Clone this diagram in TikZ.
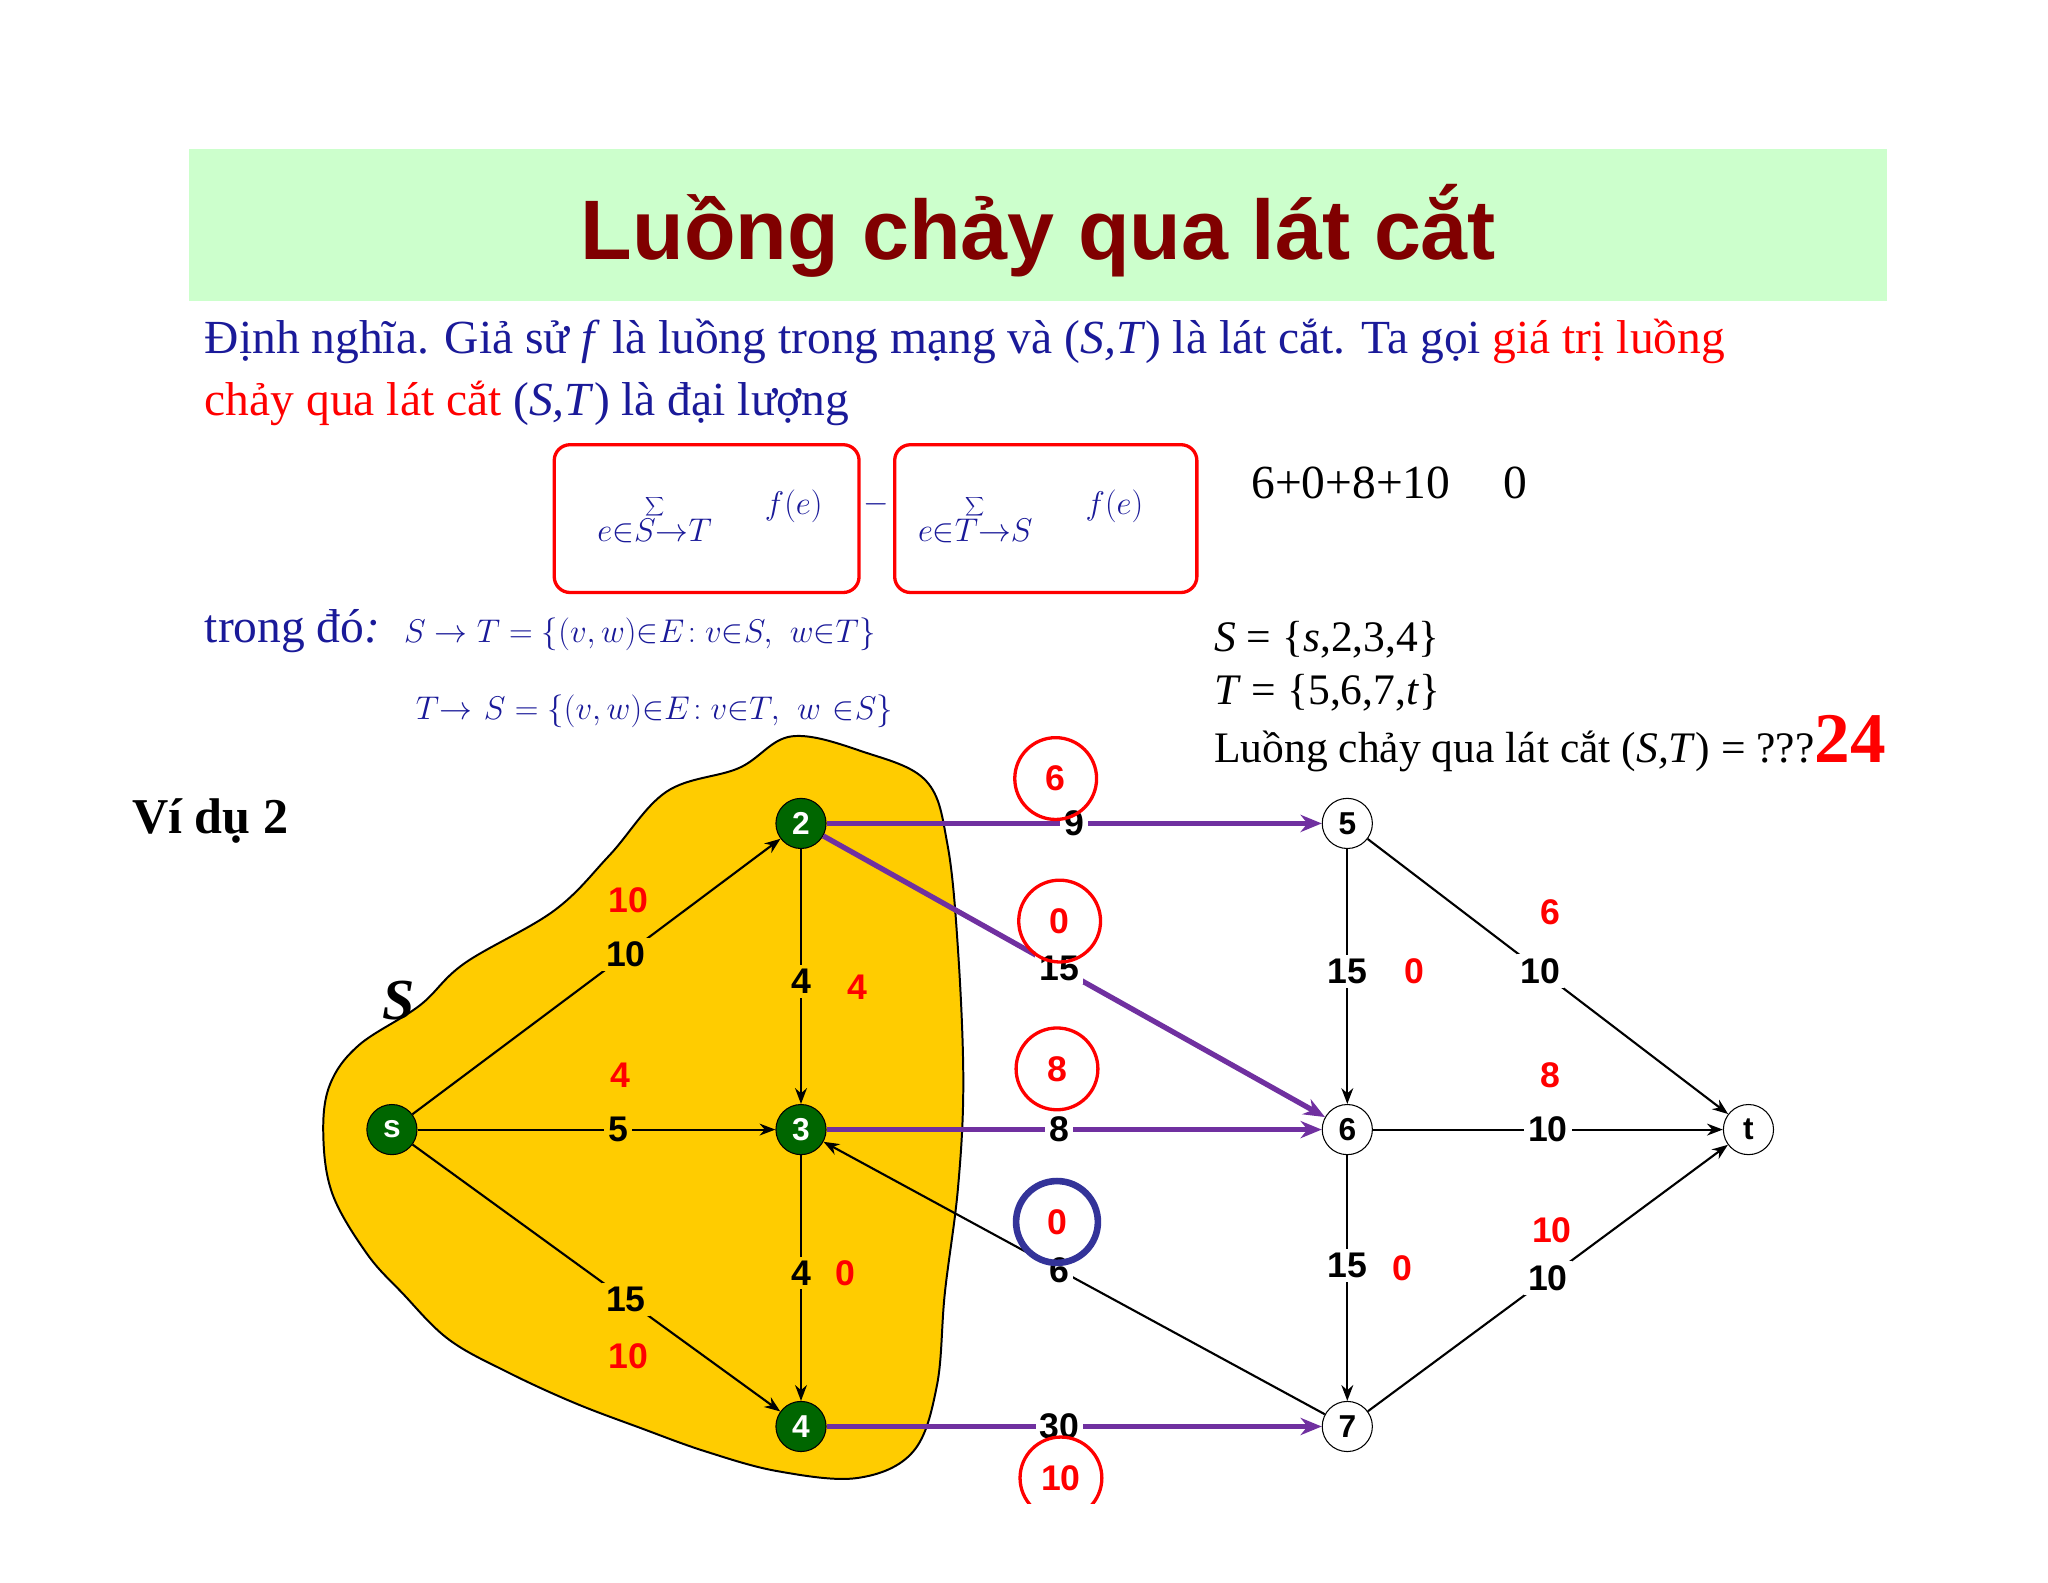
\documentclass[tikz,border=0pt]{standalone}
\usepackage{fontspec}
\setmainfont{Liberation Serif}
\newfontfamily\lsans{Liberation Sans}
\usetikzlibrary{arrows.meta}
\definecolor{bandgreen}{HTML}{CCFFCC}
\definecolor{titlered}{HTML}{800000}
\definecolor{txtblue}{HTML}{1A1A99}
\definecolor{blobyellow}{HTML}{FFCC00}
\definecolor{nodegreen}{HTML}{006600}
\definecolor{purp}{HTML}{7030A0}
\definecolor{cblue}{HTML}{333399}
\tikzset{
 gnode/.style={circle,draw=black,thick,fill=nodegreen,text=white,minimum size=38pt,inner sep=0pt,font=\lsans\bfseries\fontsize{24}{24}\selectfont},
 wnode/.style={circle,draw=black,thick,fill=white,text=black,minimum size=38pt,inner sep=0pt,font=\lsans\bfseries\fontsize{24}{24}\selectfont},
 edg/.style={draw=black,line width=1.6pt,-{Stealth[length=12pt,width=9pt]}},
 pedg/.style={draw=purp,line width=4pt,-{Stealth[length=16pt,width=13pt]}},
 lab/.style={fill=white,inner sep=3pt,font=\lsans\bfseries\fontsize{27}{27}\selectfont},
 rlab/.style={text=red,inner sep=1pt,font=\lsans\bfseries\fontsize{27}{27}\selectfont},
 circ/.style={draw=red,line width=2.5pt,circle,minimum size=64pt,text=red,inner sep=0pt,font=\lsans\bfseries\fontsize{27}{27}\selectfont},
 big/.style={font=\fontsize{36}{40}\selectfont,inner sep=0pt,anchor=base west}
}
\begin{document}
\begin{tikzpicture}[x=1pt,y=-1pt]
\useasboundingbox (0,0) rectangle (1552,1199);
\fill[white] (0,0) rectangle (1552,1199);
\fill[bandgreen] (143,113) rectangle (1430,228);
\node[text=titlered,font=\lsans\bfseries\fontsize{64}{70}\selectfont] (title) at (787,175) {Luồng chảy qua lát cắt};
\node[big,text=txtblue] (l1) at (155,268) {Định nghĩa. Giả sử \textit{f} là luồng trong mạng và (\textit{S,T}) là lát cắt. Ta gọi \textcolor{red}{giá trị luồng}};
\node[big,text=txtblue] (l2) at (155,315) {\textcolor{red}{chảy qua lát cắt} (\textit{S,T}) là đại lượng};
\draw[red,line width=2.5pt,rounded corners=12pt] (420,337) rectangle (651,449);
\draw[red,line width=2.5pt,rounded corners=12pt] (678,337) rectangle (907,449);
\node[text=txtblue,font=\fontsize{36}{40}\selectfont] (f1) at (538,392) {$\displaystyle\sum_{e\in S\to T}\quad f(e)$};
\node[text=txtblue,font=\fontsize{36}{40}\selectfont] (minus) at (664,382) {$-$};
\node[text=txtblue,font=\fontsize{36}{40}\selectfont] (f2) at (781,392) {$\displaystyle\sum_{e\in T\to S}\quad f(e)$};
\node[big] (sum) at (948,378) {6+0+8+10\hspace{40pt}0};
\node[big,text=txtblue] (t1) at (155,487) {trong đó\textit{:}\ \ $S \rightarrow T = \{(v,w){\in}E\!: v{\in}S,\ w{\in}T\}$};
\node[big,text=txtblue] (t2) at (315,545) {$T{\rightarrow}\ S = \{(v,w){\in}E\!: v{\in}T,\ w\ {\in}S\}$};
\node[big,font=\fontsize{33}{36}\selectfont] (r1) at (920,494) {\textit{S} = \{\textit{s},2,3,4\}};
\node[big,font=\fontsize{33}{36}\selectfont] (r2) at (920,534) {\textit{T} = \{5,6,7,\textit{t}\}};
\node[big,font=\fontsize{33}{36}\selectfont] (r3) at (920,578) {Luồng chảy qua lát cắt (\textit{S,T}) = ???\textcolor{red}{\bfseries\fontsize{54}{54}\selectfont 24}};
\node[big,font=\bfseries\fontsize{38}{40}\selectfont] (vd) at (100,632) {Ví dụ 2};
% blob
\draw[fill=blobyellow,line width=1.5pt] plot[smooth cycle,tension=0.6] coordinates {(245,860) (252,905) (278,950) (305,980) (340,1015) (385,1040) (435,1063) (485,1082) (535,1100) (590,1115) (650,1120) (692,1100) (710,1050) (716,980) (726,900) (730,820) (726,720) (718,640) (702,592) (655,570) (600,558) (560,582) (505,600) (462,648) (420,690) (352,730) (318,762) (272,792) (250,822)};
\node[font=\bfseries\itshape\fontsize{44}{44}\selectfont] (S) at (302,758) {S};
% nodes
\node[gnode] (s) at (297,856) {s};
\node[gnode] (n2) at (607,624) {2};
\node[gnode] (n3) at (607,856) {3};
\node[gnode] (n4) at (607,1081) {4};
\node[wnode] (n5) at (1021,624) {5};
\node[wnode] (n6) at (1021,856) {6};
\node[wnode] (n7) at (1021,1081) {7};
\node[wnode] (t) at (1325,856) {t};
% edges
\draw[edg] (s) -- node[lab,pos=0.58,fill=blobyellow]{10} (n2);
\draw[edg] (s) -- node[lab,pos=0.56,fill=blobyellow]{5} (n3);
\draw[edg] (s) -- node[lab,pos=0.58,fill=blobyellow]{15} (n4);
\draw[edg] (n2) -- node[lab,pos=0.52,fill=blobyellow]{4} (n3);
\draw[edg] (n3) -- node[lab,pos=0.48,fill=blobyellow]{4} (n4);
\draw[pedg] (n2) -- node[lab,pos=0.5]{9} (n5);
\draw[pedg] (n2) -- node[lab,pos=0.47]{15} (n6);
\draw[pedg] (n3) -- node[lab,pos=0.47]{8} (n6);
\draw[edg] (n7) -- node[lab,pos=0.53]{6} (n3);
\draw[pedg] (n4) -- node[lab,pos=0.47]{30} (n7);
\draw[edg] (n5) -- node[lab,pos=0.48]{15} (n6);
\draw[edg] (n6) -- node[lab,pos=0.45]{15} (n7);
\draw[edg] (n5) -- node[lab,pos=0.48]{10} (t);
\draw[edg] (n6) -- node[lab,pos=0.5]{10} (t);
\draw[edg] (n7) -- node[lab,pos=0.5]{10} (t);
% red flows
\node[rlab] (f_s2) at (476,682) {10};
\node[rlab] (f_s3) at (470,815) {4};
\node[rlab] (f_s4) at (476,1028) {10};
\node[rlab] (f_23) at (650,748) {4};
\node[rlab] (f_34) at (641,965) {0};
\node[rlab] (f_56) at (1072,736) {0};
\node[rlab] (f_67) at (1063,961) {0};
\node[rlab] (f_5t) at (1175,691) {6};
\node[rlab] (f_6t) at (1175,815) {8};
\node[rlab] (f_7t) at (1176,932) {10};
\node[circ,minimum size=62pt] (c1) at (800,590) {6};
\node[circ,minimum size=62pt] (c2) at (803,698) {0};
\node[circ,minimum size=62pt] (c3) at (801,810) {8};
\node[circ,minimum size=62pt,draw=cblue,line width=5pt] (c4) at (801,926) {0};
\begin{scope}
\clip (700,1080) rectangle (900,1139);
\node[circ,minimum size=62pt] (c5) at (804,1120) {10};
\end{scope}
\end{tikzpicture}
\end{document}
